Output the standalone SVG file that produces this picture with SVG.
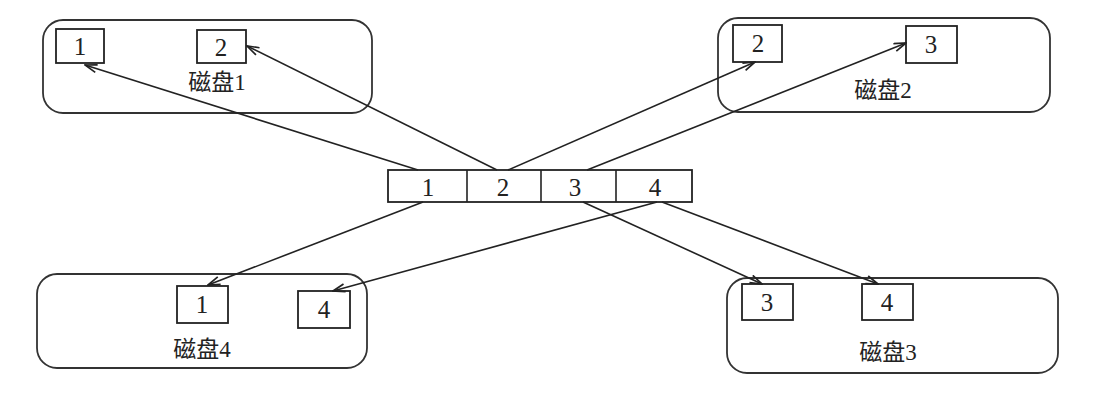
<svg xmlns="http://www.w3.org/2000/svg" width="1119" height="404" viewBox="0 0 1119 404">
<defs>
<marker id="ah" markerWidth="14" markerHeight="10" refX="13" refY="5" orient="auto" markerUnits="userSpaceOnUse">
<path d="M1,1 L13,5 L1,9" fill="none" stroke="#222" stroke-width="1.7"/>
</marker>
</defs>
<style>
.disk{fill:none;stroke:#333;stroke-width:1.8}
.blk{fill:#fff;stroke:#222;stroke-width:1.8}
.t{font-family:"Liberation Serif","Noto Sans CJK SC",serif;font-size:25px;fill:#222;text-anchor:middle}
.l{font-size:23px}
.c{fill:none;stroke:#222;stroke-width:1.6}
</style>
<rect width="1119" height="404" fill="#fff"/>
<g id="disk1">
<rect class="disk" x="43" y="20" width="329" height="93" rx="20"/>
<rect class="blk" x="56" y="29" width="48" height="34"/>
<text class="t" x="80" y="55">1</text>
<rect class="blk" x="197" y="30" width="49" height="33"/>
<text class="t" x="221" y="56">2</text>
<text class="t l" x="217" y="90">磁盘1</text>
</g>
<g id="disk2">
<rect class="disk" x="718" y="18" width="332" height="94" rx="20"/>
<rect class="blk" x="733" y="25" width="49" height="37"/>
<text class="t" x="758" y="52">2</text>
<rect class="blk" x="906" y="26" width="51" height="37"/>
<text class="t" x="931" y="53">3</text>
<text class="t l" x="883" y="98">磁盘2</text>
</g>
<g id="disk4">
<rect class="disk" x="37" y="274" width="330" height="94" rx="20"/>
<rect class="blk" x="177" y="286" width="51" height="37"/>
<text class="t" x="202" y="313">1</text>
<rect class="blk" x="298" y="291" width="52" height="37"/>
<text class="t" x="324" y="318">4</text>
<text class="t l" x="202" y="357">磁盘4</text>
</g>
<g id="disk3">
<rect class="disk" x="727" y="278" width="331" height="95" rx="20"/>
<rect class="blk" x="742" y="284" width="51" height="36"/>
<text class="t" x="767" y="311">3</text>
<rect class="blk" x="862" y="284" width="51" height="36"/>
<text class="t" x="887" y="311">4</text>
<text class="t l" x="888" y="360">磁盘3</text>
</g>
<g id="strip">
<rect class="blk" x="388" y="170" width="304" height="32"/>
<line class="c" x1="467" y1="170" x2="467" y2="202"/>
<line class="c" x1="541" y1="170" x2="541" y2="202"/>
<line class="c" x1="616" y1="170" x2="616" y2="202"/>
<text class="t" x="428" y="196">1</text>
<text class="t" x="503" y="196">2</text>
<text class="t" x="575" y="196">3</text>
<text class="t" x="655" y="196">4</text>
</g>
<g id="connectors">
<line class="c" x1="418" y1="170" x2="85" y2="65" marker-end="url(#ah)"/>
<line class="c" x1="497" y1="170" x2="247" y2="46" marker-end="url(#ah)"/>
<line class="c" x1="508" y1="170" x2="755" y2="62" marker-end="url(#ah)"/>
<line class="c" x1="587" y1="170" x2="906" y2="43" marker-end="url(#ah)"/>
<line class="c" x1="423" y1="202" x2="208" y2="285" marker-end="url(#ah)"/>
<line class="c" x1="657" y1="202" x2="333" y2="291" marker-end="url(#ah)"/>
<line class="c" x1="583" y1="202" x2="762" y2="284" marker-end="url(#ah)"/>
<line class="c" x1="662" y1="202" x2="878" y2="284" marker-end="url(#ah)"/>
</g>
</svg>
